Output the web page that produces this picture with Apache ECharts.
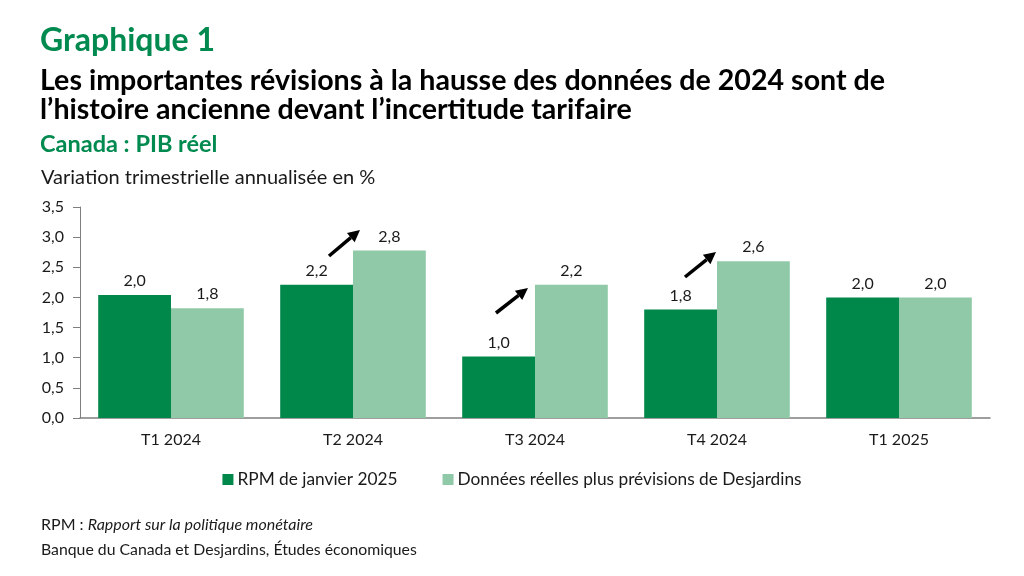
<!DOCTYPE html>
<html><head><meta charset="utf-8">
<script src="https://cdn.jsdelivr.net/npm/echarts@6/dist/echarts.min.js"></script>
<style>html,body{margin:0;padding:0;background:#fff}#c{width:1024px;height:576px}</style>
</head><body><div id="c"></div>
<script>
const categories = ['T1 2024','T2 2024','T3 2024','T4 2024','T1 2025'];
const rpmJanvier = [2.04, 2.21, 1.02, 1.80, 2.00];
const donneesDesjardins = [1.82, 2.78, 2.21, 2.60, 2.00];
const yTicks = [0, 0.5, 1, 1.5, 2, 2.5, 3, 3.5];
const seriesNames = ['RPM de janvier 2025', 'Données réelles plus prévisions de Desjardins'];

const FONT = 'Lato, "Open Sans", sans-serif';
const fmt = v => v.toFixed(1).replace('.', ',');
const chart = echarts.init(document.getElementById('c'));
const labelCfg = {show:true, position:'top', distance:6, color:'#1a1a1a', fontSize:16, fontFamily:FONT,
  formatter: p => fmt(p.value)};
chart.setOption({
  animation:false,
  textStyle:{fontFamily:FONT},
  title:[
    {text:'Graphique 1', left:35, top:20, textStyle:{fontSize:32, fontWeight:'bold', color:'#008a4f', fontFamily:FONT}},
    {text:'Les importantes révisions à la hausse des données de 2024 sont de\nl’histoire ancienne devant l’incertitude tarifaire', left:35, top:61,
      textStyle:{fontSize:28.6, fontWeight:'bold', color:'#000', lineHeight:29.5, fontFamily:FONT}},
    {text:'Canada : PIB réel', left:35, top:127, textStyle:{fontSize:23.5, fontWeight:'bold', color:'#008a4f', fontFamily:FONT}},
    {text:'Variation trimestrielle annualisée en %', left:36, top:163, textStyle:{fontSize:20, fontWeight:'normal', color:'#1a1a1a', fontFamily:FONT}},
    {text:'RPM : {i|Rapport sur la politique monétaire}', left:36, top:512, textStyle:{fontSize:16, fontWeight:'normal', color:'#1a1a1a', fontFamily:FONT,
      rich:{i:{fontStyle:'italic', fontSize:16, color:'#1a1a1a', fontFamily:FONT}}}},
    {text:'Banque du Canada et Desjardins, Études économiques', left:36, top:537, textStyle:{fontSize:15.8, fontWeight:'normal', color:'#1a1a1a', fontFamily:FONT}}
  ],
  legend:{data:seriesNames, left:'center', top:466, itemWidth:11, itemHeight:11, itemGap:45, icon:'rect',
    textStyle:{fontSize:17.3, color:'#1a1a1a', fontFamily:FONT, padding:[0,0,0,-1]}},
  grid:{left:80, right:34, top:207, bottom:158},
  xAxis:{type:'category', data:categories,
    axisLine:{lineStyle:{color:'#7f7f7f', width:1.5}}, axisTick:{show:false},
    axisLabel:{fontSize:16, color:'#1a1a1a', margin:14, fontFamily:FONT}},
  yAxis:{type:'value', min:0, max:3.5, interval:0.5,
    axisLine:{show:true, lineStyle:{color:'#7f7f7f'}}, axisTick:{show:true, length:7, lineStyle:{color:'#7f7f7f'}},
    splitLine:{show:false},
    axisLabel:{fontSize:16, color:'#1a1a1a', margin:16, fontFamily:FONT,
      formatter: v => yTicks.includes(v) ? fmt(v) : ''}},
  series:[
    {name:seriesNames[0], type:'bar', data:rpmJanvier, barGap:'0%', barCategoryGap:'20%',
      itemStyle:{color:'#00874a'}, label:labelCfg},
    {name:seriesNames[1], type:'bar', data:donneesDesjardins,
      itemStyle:{color:'#90c9a8'}, label:labelCfg}
  ]
});

// Annotation arrows (tail -> head in px)
const arrows = [[[329,256],[360,230]], [[496,313],[528,288]], [[685,277],[716,252]]];
const g = [];
arrows.forEach(([t,h]) => {
  const ang = Math.atan2(h[1]-t[1], h[0]-t[0]);
  const L = 12, W = 6;
  const bx = h[0] - L*Math.cos(ang), by = h[1] - L*Math.sin(ang);
  g.push({type:'line', shape:{x1:t[0], y1:t[1], x2:bx, y2:by}, style:{stroke:'#000', lineWidth:3.5}});
  g.push({type:'polygon', shape:{points:[[h[0],h[1]],
    [bx + W*Math.sin(ang), by - W*Math.cos(ang)], [bx - W*Math.sin(ang), by + W*Math.cos(ang)]]}, style:{fill:'#000'}});
});
chart.setOption({graphic:g});
</script></body></html>
